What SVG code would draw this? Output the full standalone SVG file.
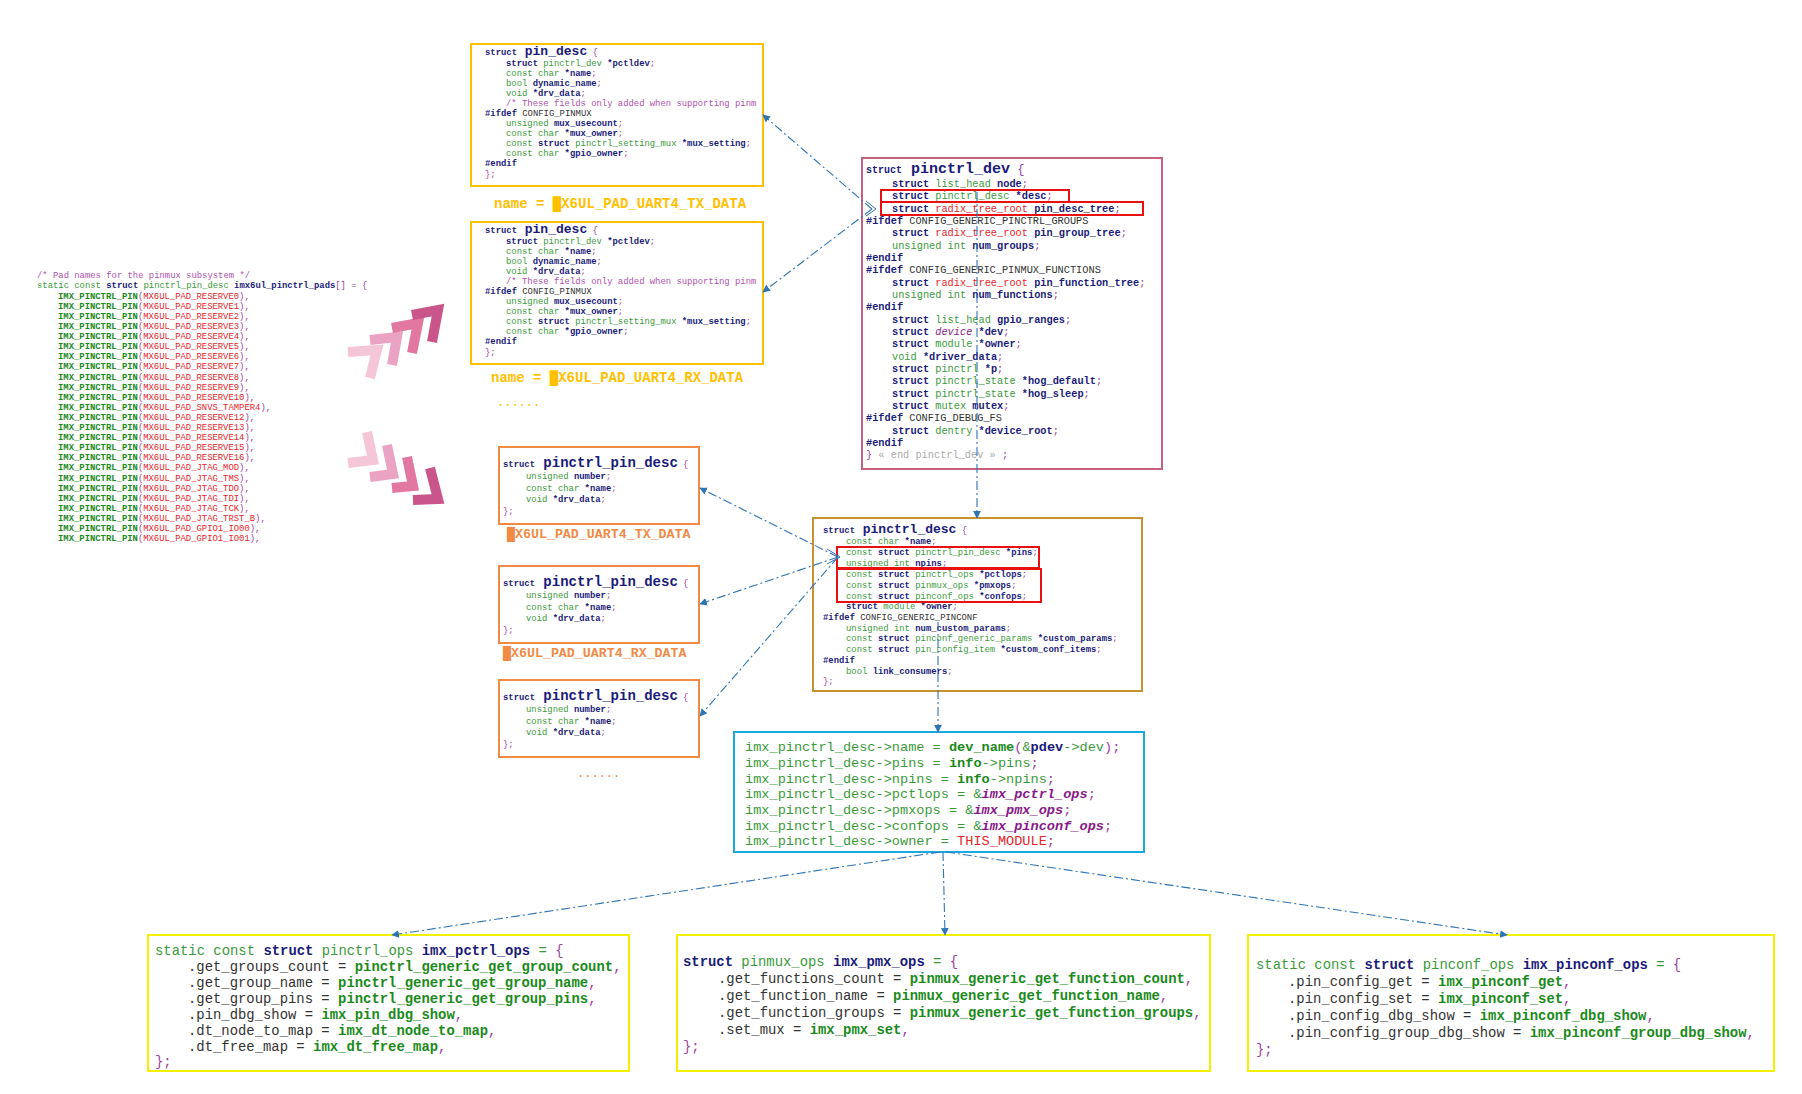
<svg xmlns="http://www.w3.org/2000/svg" width="1802" height="1094" viewBox="0 0 1802 1094">
<style>
text{font-family:"Liberation Mono","DejaVu Sans Mono",monospace;white-space:pre}
.s9{font-size:8.9px}.s10{font-size:10.3px}.s14{font-size:13.6px}.s139{font-size:13.9px}
.k{fill:#1b1b7a;font-weight:bold}.t{fill:#3a9a3a}.r{fill:#e8242a}.p{fill:#a040a0}.c{fill:#b050b0}
.d{fill:#333}.g{fill:#1a8a1a;font-weight:bold}.tl{fill:#1b1b7a;font-weight:bold}.gi{fill:#8a1a8a;font-weight:bold;font-style:italic}
.gr{fill:#aaa}
.box{fill:#fff;stroke-width:2}
.conn{fill:none;stroke:#2E75B6;stroke-width:1.1;stroke-dasharray:9 3 2 3}
.hl{fill:none;stroke:#e81010;stroke-width:2}
</style>
<defs>
<marker id="ah" viewBox="0 0 10 10" refX="9" refY="5" markerWidth="7" markerHeight="7" orient="auto"><path d="M0,0L10,5L0,10z" fill="#2E75B6"/></marker>
</defs>
<rect width="1802" height="1094" fill="#fff"/>

<g id="pads">
<text class="s9" x="37" y="278"><tspan class="c">/* Pad names for the pinmux subsystem */</tspan></text>
<text class="s9" x="37" y="288"><tspan class="t">static const </tspan><tspan class="k">struct</tspan><tspan class="t"> pinctrl_pin_desc </tspan><tspan class="k">imx6ul_pinctrl_pads</tspan><tspan class="p">[] = {</tspan></text>
<text class="s9" x="58" y="299"><tspan class="g">IMX_PINCTRL_PIN</tspan><tspan class="p">(</tspan><tspan class="r">MX6UL_PAD_RESERVE0</tspan><tspan class="p">),</tspan></text>
<text class="s9" x="58" y="309"><tspan class="g">IMX_PINCTRL_PIN</tspan><tspan class="p">(</tspan><tspan class="r">MX6UL_PAD_RESERVE1</tspan><tspan class="p">),</tspan></text>
<text class="s9" x="58" y="319"><tspan class="g">IMX_PINCTRL_PIN</tspan><tspan class="p">(</tspan><tspan class="r">MX6UL_PAD_RESERVE2</tspan><tspan class="p">),</tspan></text>
<text class="s9" x="58" y="329"><tspan class="g">IMX_PINCTRL_PIN</tspan><tspan class="p">(</tspan><tspan class="r">MX6UL_PAD_RESERVE3</tspan><tspan class="p">),</tspan></text>
<text class="s9" x="58" y="339"><tspan class="g">IMX_PINCTRL_PIN</tspan><tspan class="p">(</tspan><tspan class="r">MX6UL_PAD_RESERVE4</tspan><tspan class="p">),</tspan></text>
<text class="s9" x="58" y="349"><tspan class="g">IMX_PINCTRL_PIN</tspan><tspan class="p">(</tspan><tspan class="r">MX6UL_PAD_RESERVE5</tspan><tspan class="p">),</tspan></text>
<text class="s9" x="58" y="359"><tspan class="g">IMX_PINCTRL_PIN</tspan><tspan class="p">(</tspan><tspan class="r">MX6UL_PAD_RESERVE6</tspan><tspan class="p">),</tspan></text>
<text class="s9" x="58" y="369"><tspan class="g">IMX_PINCTRL_PIN</tspan><tspan class="p">(</tspan><tspan class="r">MX6UL_PAD_RESERVE7</tspan><tspan class="p">),</tspan></text>
<text class="s9" x="58" y="380"><tspan class="g">IMX_PINCTRL_PIN</tspan><tspan class="p">(</tspan><tspan class="r">MX6UL_PAD_RESERVE8</tspan><tspan class="p">),</tspan></text>
<text class="s9" x="58" y="390"><tspan class="g">IMX_PINCTRL_PIN</tspan><tspan class="p">(</tspan><tspan class="r">MX6UL_PAD_RESERVE9</tspan><tspan class="p">),</tspan></text>
<text class="s9" x="58" y="400"><tspan class="g">IMX_PINCTRL_PIN</tspan><tspan class="p">(</tspan><tspan class="r">MX6UL_PAD_RESERVE10</tspan><tspan class="p">),</tspan></text>
<text class="s9" x="58" y="410"><tspan class="g">IMX_PINCTRL_PIN</tspan><tspan class="p">(</tspan><tspan class="r">MX6UL_PAD_SNVS_TAMPER4</tspan><tspan class="p">),</tspan></text>
<text class="s9" x="58" y="420"><tspan class="g">IMX_PINCTRL_PIN</tspan><tspan class="p">(</tspan><tspan class="r">MX6UL_PAD_RESERVE12</tspan><tspan class="p">),</tspan></text>
<text class="s9" x="58" y="430"><tspan class="g">IMX_PINCTRL_PIN</tspan><tspan class="p">(</tspan><tspan class="r">MX6UL_PAD_RESERVE13</tspan><tspan class="p">),</tspan></text>
<text class="s9" x="58" y="440"><tspan class="g">IMX_PINCTRL_PIN</tspan><tspan class="p">(</tspan><tspan class="r">MX6UL_PAD_RESERVE14</tspan><tspan class="p">),</tspan></text>
<text class="s9" x="58" y="450"><tspan class="g">IMX_PINCTRL_PIN</tspan><tspan class="p">(</tspan><tspan class="r">MX6UL_PAD_RESERVE15</tspan><tspan class="p">),</tspan></text>
<text class="s9" x="58" y="460"><tspan class="g">IMX_PINCTRL_PIN</tspan><tspan class="p">(</tspan><tspan class="r">MX6UL_PAD_RESERVE16</tspan><tspan class="p">),</tspan></text>
<text class="s9" x="58" y="470"><tspan class="g">IMX_PINCTRL_PIN</tspan><tspan class="p">(</tspan><tspan class="r">MX6UL_PAD_JTAG_MOD</tspan><tspan class="p">),</tspan></text>
<text class="s9" x="58" y="481"><tspan class="g">IMX_PINCTRL_PIN</tspan><tspan class="p">(</tspan><tspan class="r">MX6UL_PAD_JTAG_TMS</tspan><tspan class="p">),</tspan></text>
<text class="s9" x="58" y="491"><tspan class="g">IMX_PINCTRL_PIN</tspan><tspan class="p">(</tspan><tspan class="r">MX6UL_PAD_JTAG_TDO</tspan><tspan class="p">),</tspan></text>
<text class="s9" x="58" y="501"><tspan class="g">IMX_PINCTRL_PIN</tspan><tspan class="p">(</tspan><tspan class="r">MX6UL_PAD_JTAG_TDI</tspan><tspan class="p">),</tspan></text>
<text class="s9" x="58" y="511"><tspan class="g">IMX_PINCTRL_PIN</tspan><tspan class="p">(</tspan><tspan class="r">MX6UL_PAD_JTAG_TCK</tspan><tspan class="p">),</tspan></text>
<text class="s9" x="58" y="521"><tspan class="g">IMX_PINCTRL_PIN</tspan><tspan class="p">(</tspan><tspan class="r">MX6UL_PAD_JTAG_TRST_B</tspan><tspan class="p">),</tspan></text>
<text class="s9" x="58" y="531"><tspan class="g">IMX_PINCTRL_PIN</tspan><tspan class="p">(</tspan><tspan class="r">MX6UL_PAD_GPIO1_IO00</tspan><tspan class="p">),</tspan></text>
<text class="s9" x="58" y="541"><tspan class="g">IMX_PINCTRL_PIN</tspan><tspan class="p">(</tspan><tspan class="r">MX6UL_PAD_GPIO1_IO01</tspan><tspan class="p">),</tspan></text>
</g>

<g id="chevrons" fill="none" stroke-width="10" stroke-linejoin="miter">
<polyline points="348,352 377,350 370,378" stroke="#F5C6D8"/>
<polyline points="370,340 397,337 392,365" stroke="#EBA3C3"/>
<polyline points="392,328 418,323 412,353" stroke="#E2779F"/>
<polyline points="412,315 438,310 432,342" stroke="#C9558A"/>
<polyline points="367,432 373,460 348,463" stroke="#F5C6D8"/>
<polyline points="387,445 393,474 370,477" stroke="#EBA3C3"/>
<polyline points="407,457 413,486 392,488" stroke="#E2779F"/>
<polyline points="430,468 438,499 413,500" stroke="#C9558A"/>
</g>

<g id="pin_desc1">
<rect class="box" x="471" y="44" width="292" height="142" stroke="#FFC000"/>
<text x="485" y="55"><tspan class="k s9">struct</tspan><tspan class="k" font-size="13"> pin_desc</tspan><tspan class="p s9"> {</tspan></text>
<text class="s9" x="506" y="66"><tspan class="k">struct</tspan><tspan class="t"> pinctrl_dev </tspan><tspan class="k">*pctldev</tspan><tspan class="p">;</tspan></text>
<text class="s9" x="506" y="76"><tspan class="t">const char </tspan><tspan class="k">*name</tspan><tspan class="p">;</tspan></text>
<text class="s9" x="506" y="86"><tspan class="t">bool </tspan><tspan class="k">dynamic_name</tspan><tspan class="p">;</tspan></text>
<text class="s9" x="506" y="96"><tspan class="t">void </tspan><tspan class="k">*drv_data</tspan><tspan class="p">;</tspan></text>
<text class="s9" x="506" y="106"><tspan class="c">/* These fields only added when supporting pinm</tspan></text>
<text class="s9" x="485" y="116"><tspan class="k">#ifdef</tspan><tspan class="d"> CONFIG_PINMUX</tspan></text>
<text class="s9" x="506" y="126"><tspan class="t">unsigned </tspan><tspan class="k">mux_usecount</tspan><tspan class="p">;</tspan></text>
<text class="s9" x="506" y="136"><tspan class="t">const char </tspan><tspan class="k">*mux_owner</tspan><tspan class="p">;</tspan></text>
<text class="s9" x="506" y="146"><tspan class="t">const </tspan><tspan class="k">struct</tspan><tspan class="t"> pinctrl_setting_mux </tspan><tspan class="k">*mux_setting</tspan><tspan class="p">;</tspan></text>
<text class="s9" x="506" y="156"><tspan class="t">const char </tspan><tspan class="k">*gpio_owner</tspan><tspan class="p">;</tspan></text>
<text class="s9" x="485" y="166"><tspan class="k">#endif</tspan></text>
<text class="s9" x="485" y="177"><tspan class="p">};</tspan></text>
</g>
<text x="494" y="208" font-size="14" fill="#FFC000" font-weight="bold">name = █X6UL_PAD_UART4_TX_DATA</text>

<g id="pin_desc2">
<rect class="box" x="471" y="222" width="292" height="142" stroke="#FFC000"/>
<text x="485" y="233"><tspan class="k s9">struct</tspan><tspan class="k" font-size="13"> pin_desc</tspan><tspan class="p s9"> {</tspan></text>
<text class="s9" x="506" y="244"><tspan class="k">struct</tspan><tspan class="t"> pinctrl_dev </tspan><tspan class="k">*pctldev</tspan><tspan class="p">;</tspan></text>
<text class="s9" x="506" y="254"><tspan class="t">const char </tspan><tspan class="k">*name</tspan><tspan class="p">;</tspan></text>
<text class="s9" x="506" y="264"><tspan class="t">bool </tspan><tspan class="k">dynamic_name</tspan><tspan class="p">;</tspan></text>
<text class="s9" x="506" y="274"><tspan class="t">void </tspan><tspan class="k">*drv_data</tspan><tspan class="p">;</tspan></text>
<text class="s9" x="506" y="284"><tspan class="c">/* These fields only added when supporting pinm</tspan></text>
<text class="s9" x="485" y="294"><tspan class="k">#ifdef</tspan><tspan class="d"> CONFIG_PINMUX</tspan></text>
<text class="s9" x="506" y="304"><tspan class="t">unsigned </tspan><tspan class="k">mux_usecount</tspan><tspan class="p">;</tspan></text>
<text class="s9" x="506" y="314"><tspan class="t">const char </tspan><tspan class="k">*mux_owner</tspan><tspan class="p">;</tspan></text>
<text class="s9" x="506" y="324"><tspan class="t">const </tspan><tspan class="k">struct</tspan><tspan class="t"> pinctrl_setting_mux </tspan><tspan class="k">*mux_setting</tspan><tspan class="p">;</tspan></text>
<text class="s9" x="506" y="334"><tspan class="t">const char </tspan><tspan class="k">*gpio_owner</tspan><tspan class="p">;</tspan></text>
<text class="s9" x="485" y="344"><tspan class="k">#endif</tspan></text>
<text class="s9" x="485" y="355"><tspan class="p">};</tspan></text>
</g>
<text x="491" y="382" font-size="14" fill="#FFC000" font-weight="bold">name = █X6UL_PAD_UART4_RX_DATA</text>
<text x="497" y="406" font-size="12" fill="#FFC000">......</text>

<g id="pinctrl_dev">
<rect class="box" x="862" y="158" width="300" height="311" stroke="#C8607E"/>
<text x="866" y="173"><tspan class="k" font-size="10">struct</tspan><tspan class="k" font-size="15"> pinctrl_dev</tspan><tspan class="p" font-size="12"> {</tspan></text>
<g class="s10">
<text x="892" y="187"><tspan class="k">struct</tspan><tspan class="t"> list_head </tspan><tspan class="k">node</tspan><tspan class="p">;</tspan></text>
<text x="892" y="199"><tspan class="k">struct</tspan><tspan class="t"> pinctrl_desc </tspan><tspan class="k">*desc</tspan><tspan class="p">;</tspan></text>
<text x="892" y="212"><tspan class="k">struct</tspan><tspan class="r"> radix_tree_root </tspan><tspan class="k">pin_desc_tree</tspan><tspan class="p">;</tspan></text>
<text x="866" y="224"><tspan class="k">#ifdef</tspan><tspan class="d"> CONFIG_GENERIC_PINCTRL_GROUPS</tspan></text>
<text x="892" y="236"><tspan class="k">struct</tspan><tspan class="r"> radix_tree_root </tspan><tspan class="k">pin_group_tree</tspan><tspan class="p">;</tspan></text>
<text x="892" y="249"><tspan class="t">unsigned int </tspan><tspan class="k">num_groups</tspan><tspan class="p">;</tspan></text>
<text x="866" y="261"><tspan class="k">#endif</tspan></text>
<text x="866" y="273"><tspan class="k">#ifdef</tspan><tspan class="d"> CONFIG_GENERIC_PINMUX_FUNCTIONS</tspan></text>
<text x="892" y="286"><tspan class="k">struct</tspan><tspan class="r"> radix_tree_root </tspan><tspan class="k">pin_function_tree</tspan><tspan class="p">;</tspan></text>
<text x="892" y="298"><tspan class="t">unsigned int </tspan><tspan class="k">num_functions</tspan><tspan class="p">;</tspan></text>
<text x="866" y="310"><tspan class="k">#endif</tspan></text>
<text x="892" y="323"><tspan class="k">struct</tspan><tspan class="t"> list_head </tspan><tspan class="k">gpio_ranges</tspan><tspan class="p">;</tspan></text>
<text x="892" y="335"><tspan class="k">struct</tspan><tspan fill="#8a1a8a" font-style="italic"> device </tspan><tspan class="k">*dev</tspan><tspan class="p">;</tspan></text>
<text x="892" y="347"><tspan class="k">struct</tspan><tspan class="t"> module </tspan><tspan class="k">*owner</tspan><tspan class="p">;</tspan></text>
<text x="892" y="360"><tspan class="t">void </tspan><tspan class="k">*driver_data</tspan><tspan class="p">;</tspan></text>
<text x="892" y="372"><tspan class="k">struct</tspan><tspan class="t"> pinctrl </tspan><tspan class="k">*p</tspan><tspan class="p">;</tspan></text>
<text x="892" y="384"><tspan class="k">struct</tspan><tspan class="t"> pinctrl_state </tspan><tspan class="k">*hog_default</tspan><tspan class="p">;</tspan></text>
<text x="892" y="397"><tspan class="k">struct</tspan><tspan class="t"> pinctrl_state </tspan><tspan class="k">*hog_sleep</tspan><tspan class="p">;</tspan></text>
<text x="892" y="409"><tspan class="k">struct</tspan><tspan class="t"> mutex </tspan><tspan class="k">mutex</tspan><tspan class="p">;</tspan></text>
<text x="866" y="421"><tspan class="k">#ifdef</tspan><tspan class="d"> CONFIG_DEBUG_FS</tspan></text>
<text x="892" y="434"><tspan class="k">struct</tspan><tspan class="t"> dentry </tspan><tspan class="k">*device_root</tspan><tspan class="p">;</tspan></text>
<text x="866" y="446"><tspan class="k">#endif</tspan></text>
<text x="866" y="458"><tspan class="p">}</tspan><tspan class="gr"> « end pinctrl_dev » </tspan><tspan class="p">;</tspan></text>
</g>
<rect class="hl" x="881" y="190" width="188" height="12"/>
<rect class="hl" x="881" y="202" width="262" height="13"/>
</g>

<g id="pinctrl_pin_desc1">
<rect class="box" x="499" y="447" width="200" height="77" stroke="#F08A45"/>
<text x="503" y="467"><tspan class="k s9">struct</tspan><tspan class="k" font-size="14"> pinctrl_pin_desc</tspan><tspan class="p s9"> {</tspan></text>
<text class="s9" x="526" y="479"><tspan class="t">unsigned </tspan><tspan class="k">number</tspan><tspan class="p">;</tspan></text>
<text class="s9" x="526" y="491"><tspan class="t">const char </tspan><tspan class="k">*name</tspan><tspan class="p">;</tspan></text>
<text class="s9" x="526" y="502"><tspan class="t">void </tspan><tspan class="k">*drv_data</tspan><tspan class="p">;</tspan></text>
<text class="s9" x="503" y="514"><tspan class="p">};</tspan></text>
</g>
<text x="507" y="538" font-size="13.3" fill="#F08A45" font-weight="bold">█X6UL_PAD_UART4_TX_DATA</text>

<g id="pinctrl_pin_desc2">
<rect class="box" x="499" y="566" width="200" height="77" stroke="#F08A45"/>
<text x="503" y="586"><tspan class="k s9">struct</tspan><tspan class="k" font-size="14"> pinctrl_pin_desc</tspan><tspan class="p s9"> {</tspan></text>
<text class="s9" x="526" y="598"><tspan class="t">unsigned </tspan><tspan class="k">number</tspan><tspan class="p">;</tspan></text>
<text class="s9" x="526" y="610"><tspan class="t">const char </tspan><tspan class="k">*name</tspan><tspan class="p">;</tspan></text>
<text class="s9" x="526" y="621"><tspan class="t">void </tspan><tspan class="k">*drv_data</tspan><tspan class="p">;</tspan></text>
<text class="s9" x="503" y="633"><tspan class="p">};</tspan></text>
</g>
<text x="503" y="657" font-size="13.3" fill="#F08A45" font-weight="bold">█X6UL_PAD_UART4_RX_DATA</text>

<g id="pinctrl_pin_desc3">
<rect class="box" x="499" y="680" width="200" height="77" stroke="#F08A45"/>
<text x="503" y="700"><tspan class="k s9">struct</tspan><tspan class="k" font-size="14"> pinctrl_pin_desc</tspan><tspan class="p s9"> {</tspan></text>
<text class="s9" x="526" y="712"><tspan class="t">unsigned </tspan><tspan class="k">number</tspan><tspan class="p">;</tspan></text>
<text class="s9" x="526" y="724"><tspan class="t">const char </tspan><tspan class="k">*name</tspan><tspan class="p">;</tspan></text>
<text class="s9" x="526" y="735"><tspan class="t">void </tspan><tspan class="k">*drv_data</tspan><tspan class="p">;</tspan></text>
<text class="s9" x="503" y="747"><tspan class="p">};</tspan></text>
</g>
<text x="577" y="777" font-size="12" fill="#F08A45">......</text>

<g id="pinctrl_desc">
<rect class="box" x="813" y="518" width="329" height="173" stroke="#C8922E"/>
<text x="823" y="533"><tspan class="k s9">struct</tspan><tspan class="k" font-size="13"> pinctrl_desc</tspan><tspan class="p s9"> {</tspan></text>
<g class="s9">
<text x="846" y="544"><tspan class="t">const char </tspan><tspan class="k">*name</tspan><tspan class="p">;</tspan></text>
<text x="846" y="555"><tspan class="t">const </tspan><tspan class="k">struct</tspan><tspan class="t"> pinctrl_pin_desc </tspan><tspan class="k">*pins</tspan><tspan class="p">;</tspan></text>
<text x="846" y="566"><tspan class="t">unsigned int </tspan><tspan class="k">npins</tspan><tspan class="p">;</tspan></text>
<text x="846" y="577"><tspan class="t">const </tspan><tspan class="k">struct</tspan><tspan class="t"> pinctrl_ops </tspan><tspan class="k">*pctlops</tspan><tspan class="p">;</tspan></text>
<text x="846" y="588"><tspan class="t">const </tspan><tspan class="k">struct</tspan><tspan class="t"> pinmux_ops </tspan><tspan class="k">*pmxops</tspan><tspan class="p">;</tspan></text>
<text x="846" y="599"><tspan class="t">const </tspan><tspan class="k">struct</tspan><tspan class="t"> pinconf_ops </tspan><tspan class="k">*confops</tspan><tspan class="p">;</tspan></text>
<text x="846" y="609"><tspan class="k">struct</tspan><tspan class="t"> module </tspan><tspan class="k">*owner</tspan><tspan class="p">;</tspan></text>
<text x="823" y="620"><tspan class="k">#ifdef</tspan><tspan class="d"> CONFIG_GENERIC_PINCONF</tspan></text>
<text x="846" y="631"><tspan class="t">unsigned int </tspan><tspan class="k">num_custom_params</tspan><tspan class="p">;</tspan></text>
<text x="846" y="641"><tspan class="t">const </tspan><tspan class="k">struct</tspan><tspan class="t"> pinconf_generic_params </tspan><tspan class="k">*custom_params</tspan><tspan class="p">;</tspan></text>
<text x="846" y="652"><tspan class="t">const </tspan><tspan class="k">struct</tspan><tspan class="t"> pin_config_item </tspan><tspan class="k">*custom_conf_items</tspan><tspan class="p">;</tspan></text>
<text x="823" y="663"><tspan class="k">#endif</tspan></text>
<text x="846" y="674"><tspan class="t">bool </tspan><tspan class="k">link_consumers</tspan><tspan class="p">;</tspan></text>
<text x="823" y="684"><tspan class="p">};</tspan></text>
</g>
<rect class="hl" x="837" y="547" width="202" height="21"/>
<rect class="hl" x="837" y="569" width="204" height="33"/>
</g>

<g id="imx_pinctrl_desc_init">
<rect class="box" x="734" y="732" width="410" height="120" stroke="#1CA8E0"/>
<g class="s14">
<text x="745" y="751"><tspan class="t">imx_pinctrl_desc-&gt;name = </tspan><tspan class="g">dev_name</tspan><tspan class="p">(</tspan><tspan class="t">&amp;</tspan><tspan class="k">pdev</tspan><tspan class="t">-&gt;dev</tspan><tspan class="p">);</tspan></text>
<text x="745" y="767"><tspan class="t">imx_pinctrl_desc-&gt;pins = </tspan><tspan class="g">info</tspan><tspan class="t">-&gt;pins</tspan><tspan class="p">;</tspan></text>
<text x="745" y="783"><tspan class="t">imx_pinctrl_desc-&gt;npins = </tspan><tspan class="g">info</tspan><tspan class="t">-&gt;npins</tspan><tspan class="p">;</tspan></text>
<text x="745" y="798"><tspan class="t">imx_pinctrl_desc-&gt;pctlops = &amp;</tspan><tspan class="gi">imx_pctrl_ops</tspan><tspan class="p">;</tspan></text>
<text x="745" y="814"><tspan class="t">imx_pinctrl_desc-&gt;pmxops = &amp;</tspan><tspan class="gi">imx_pmx_ops</tspan><tspan class="p">;</tspan></text>
<text x="745" y="830"><tspan class="t">imx_pinctrl_desc-&gt;confops = &amp;</tspan><tspan class="gi">imx_pinconf_ops</tspan><tspan class="p">;</tspan></text>
<text x="745" y="845"><tspan class="t">imx_pinctrl_desc-&gt;owner = </tspan><tspan class="r">THIS_MODULE</tspan><tspan class="p">;</tspan></text>
</g>
</g>

<g id="imx_pctrl_ops">
<rect class="box" x="148" y="935" width="481" height="136" stroke="#F5F000"/>
<g class="s139">
<text x="155" y="955"><tspan class="t">static const </tspan><tspan class="k">struct</tspan><tspan class="t"> pinctrl_ops </tspan><tspan class="k">imx_pctrl_ops</tspan><tspan class="t"> = </tspan><tspan class="p">{</tspan></text>
<text x="188" y="971"><tspan class="d">.get_groups_count = </tspan><tspan class="g">pinctrl_generic_get_group_count</tspan><tspan class="p">,</tspan></text>
<text x="188" y="987"><tspan class="d">.get_group_name = </tspan><tspan class="g">pinctrl_generic_get_group_name</tspan><tspan class="p">,</tspan></text>
<text x="188" y="1003"><tspan class="d">.get_group_pins = </tspan><tspan class="g">pinctrl_generic_get_group_pins</tspan><tspan class="p">,</tspan></text>
<text x="188" y="1019"><tspan class="d">.pin_dbg_show = </tspan><tspan class="g">imx_pin_dbg_show</tspan><tspan class="p">,</tspan></text>
<text x="188" y="1035"><tspan class="d">.dt_node_to_map = </tspan><tspan class="g">imx_dt_node_to_map</tspan><tspan class="p">,</tspan></text>
<text x="188" y="1051"><tspan class="d">.dt_free_map = </tspan><tspan class="g">imx_dt_free_map</tspan><tspan class="p">,</tspan></text>
<text x="155" y="1066"><tspan class="p">};</tspan></text>
</g>
</g>

<g id="imx_pmx_ops">
<rect class="box" x="677" y="935" width="533" height="136" stroke="#F5F000"/>
<g class="s139">
<text x="683" y="966"><tspan class="k">struct</tspan><tspan class="t"> pinmux_ops </tspan><tspan class="k">imx_pmx_ops</tspan><tspan class="t"> = </tspan><tspan class="p">{</tspan></text>
<text x="718" y="983"><tspan class="d">.get_functions_count = </tspan><tspan class="g">pinmux_generic_get_function_count</tspan><tspan class="p">,</tspan></text>
<text x="718" y="1000"><tspan class="d">.get_function_name = </tspan><tspan class="g">pinmux_generic_get_function_name</tspan><tspan class="p">,</tspan></text>
<text x="718" y="1017"><tspan class="d">.get_function_groups = </tspan><tspan class="g">pinmux_generic_get_function_groups</tspan><tspan class="p">,</tspan></text>
<text x="718" y="1034"><tspan class="d">.set_mux = </tspan><tspan class="g">imx_pmx_set</tspan><tspan class="p">,</tspan></text>
<text x="683" y="1051"><tspan class="p">};</tspan></text>
</g>
</g>

<g id="imx_pinconf_ops">
<rect class="box" x="1248" y="935" width="526" height="136" stroke="#F5F000"/>
<g class="s139">
<text x="1256" y="969"><tspan class="t">static const </tspan><tspan class="k">struct</tspan><tspan class="t"> pinconf_ops </tspan><tspan class="k">imx_pinconf_ops</tspan><tspan class="t"> = </tspan><tspan class="p">{</tspan></text>
<text x="1288" y="986"><tspan class="d">.pin_config_get = </tspan><tspan class="g">imx_pinconf_get</tspan><tspan class="p">,</tspan></text>
<text x="1288" y="1003"><tspan class="d">.pin_config_set = </tspan><tspan class="g">imx_pinconf_set</tspan><tspan class="p">,</tspan></text>
<text x="1288" y="1020"><tspan class="d">.pin_config_dbg_show = </tspan><tspan class="g">imx_pinconf_dbg_show</tspan><tspan class="p">,</tspan></text>
<text x="1288" y="1037"><tspan class="d">.pin_config_group_dbg_show = </tspan><tspan class="g">imx_pinconf_group_dbg_show</tspan><tspan class="p">,</tspan></text>
<text x="1256" y="1054"><tspan class="p">};</tspan></text>
</g>
</g>

<g id="connectors">
<path class="conn" d="M872,209 L763,115" marker-end="url(#ah)"/>
<path class="conn" d="M872,209 L763,292" marker-end="url(#ah)"/>
<polyline points="866,201 876,209 866,216" fill="none" stroke="#2E75B6" stroke-width="1"/>
<path class="conn" d="M977,192 L977,518" marker-end="url(#ah)"/>
<path class="conn" d="M838,557 L700,488" marker-end="url(#ah)"/>
<path class="conn" d="M838,557 L700,604" marker-end="url(#ah)"/>
<path class="conn" d="M838,557 L700,716" marker-end="url(#ah)"/>
<polyline points="827,549 840,557 827,564" fill="none" stroke="#2E75B6" stroke-width="1"/>
<path class="conn" d="M938,622 L938,732" marker-end="url(#ah)"/>
<path class="conn" d="M940,852 L392,935" marker-end="url(#ah)"/>
<path class="conn" d="M943,852 L945,935" marker-end="url(#ah)"/>
<path class="conn" d="M946,852 L1507,935" marker-end="url(#ah)"/>
</g>
</svg>
